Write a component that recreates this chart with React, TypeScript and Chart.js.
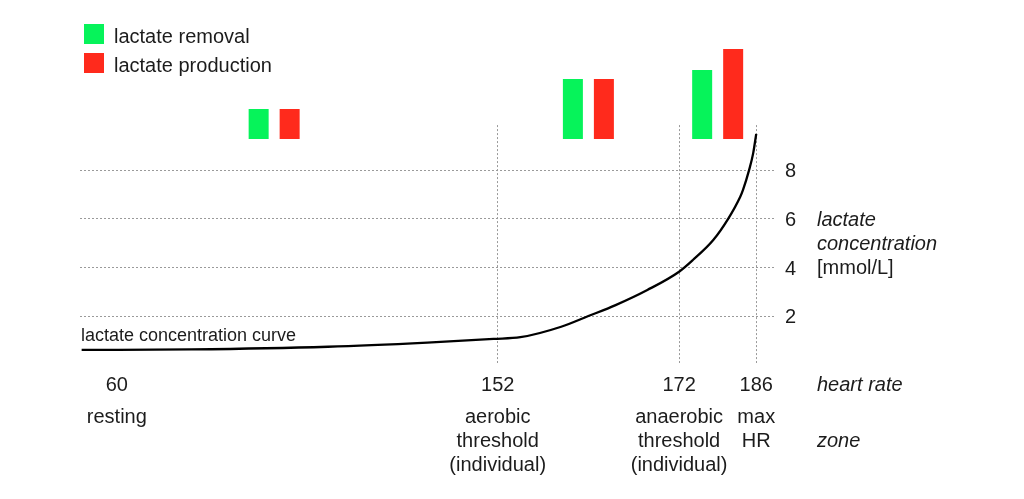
import React, { useEffect, useRef } from "react";
import { Chart, registerables } from "chart.js";

Chart.register(...registerables);

// ---- data ----
const heartRateTicks = [60, 152, 172, 186];
const zoneLabels = [
  ["resting"],
  ["aerobic", "threshold", "(individual)"],
  ["anaerobic", "threshold", "(individual)"],
  ["max", "HR"],
];
const gridHeartRates = [152, 172, 186];
const lactateTicks = [2, 4, 6, 8];

const curveHeartRate = [51.5, 78, 111, 135, 151, 154.5, 159, 162, 165, 168.5, 172, 174.5, 178.2, 180.9, 183.1, 183.6, 184.7, 185.45, 186.0];
const curveLactate = [0.62, 0.64, 0.75, 0.92, 1.07, 1.14, 1.57, 2.01, 2.46, 3.08, 3.83, 4.31, 5.13, 6.0, 6.91, 7.19, 8.0, 8.7, 9.49];

const barHeartRates = [98, 162, 179];
const lactateRemoval = [1, 2, 2.3];
const lactateProduction = [1, 2, 3];
const seriesNames = ["lactate removal", "lactate production"];
const curveName = "lactate concentration curve";
const yTitle = ["lactate", "concentration", "[mmol/L]"];
const xTitle = "heart rate";
const zoneTitle = "zone";

// ---- schematic (non-linear) heart-rate axis: stops on a 0..100 axis ----
const axisStopPos = [5.3, 60.1, 86.2, 97.3];
function hrToPos(hr: number): number {
  const s = heartRateTicks;
  let i = 0;
  if (hr >= s[s.length - 1]) i = s.length - 2;
  else {
    for (let k = 0; k < s.length - 1; k++) {
      if (hr < s[k + 1]) { i = k; break; }
    }
  }
  const t = (hr - s[i]) / (s[i + 1] - s[i]);
  return axisStopPos[i] + t * (axisStopPos[i + 1] - axisStopPos[i]);
}

const GREEN = "#06F35A";
const RED = "#FF2A1C";
const TEXT = "#1c1c1c";
const FONT = '"Liberation Sans", Arial, Helvetica, sans-serif';
const Y_MAX = 14;
const BAR_BASE_LACTATE = 9.28; // where the bar baseline sits on the lactate scale
const BAR_UNIT_IN_LACTATE = 1.232; // one bar unit expressed in lactate units

const f = (size: number, italic = false) => `${italic ? "italic " : ""}${size}px ${FONT}`;

const schematicPlugin = {
  id: "schematic",
  beforeDatasetsDraw(chart: any) {
    const { ctx, chartArea, scales } = chart;
    const x = scales.x, y = scales.y;
    ctx.save();
    ctx.strokeStyle = "#9a9a9a";
    ctx.lineWidth = 1;
    ctx.setLineDash([2, 2]);
    lactateTicks.forEach((v) => {
      const py = Math.floor(y.getPixelForValue(v)) + 0.5;
      ctx.beginPath();
      ctx.moveTo(chartArea.left, py);
      ctx.lineTo(chartArea.right, py);
      ctx.stroke();
    });
    const top = y.getPixelForValue(9.85);
    const bottom = chartArea.bottom - 2;
    gridHeartRates.forEach((hr) => {
      const px = Math.floor(x.getPixelForValue(hrToPos(hr))) + 0.5;
      ctx.beginPath();
      ctx.moveTo(px, top);
      ctx.lineTo(px, bottom);
      ctx.stroke();
    });
    ctx.restore();
  },
  afterDatasetsDraw(chart: any) {
    const { ctx, chartArea, scales, data } = chart;
    const x = scales.x, y = scales.y;
    ctx.save();
    ctx.fillStyle = TEXT;
    ctx.textBaseline = "alphabetic";

    // y tick labels
    ctx.font = f(20);
    ctx.textAlign = "left";
    lactateTicks.forEach((v) => {
      ctx.fillText(String(v), chartArea.right + 10, y.getPixelForValue(v) + 7);
    });
    // y title
    const tx = chartArea.right + 42;
    ctx.font = f(20, true);
    ctx.fillText(yTitle[0], tx, y.getPixelForValue(6) + 7);
    ctx.fillText(yTitle[1], tx, (y.getPixelForValue(6) + y.getPixelForValue(4)) / 2 + 7);
    ctx.font = f(20);
    ctx.fillText(yTitle[2], tx, y.getPixelForValue(4) + 6);

    // x tick labels and zones
    ctx.textAlign = "center";
    heartRateTicks.forEach((hr, i) => {
      const px = x.getPixelForValue(hrToPos(hr));
      ctx.font = f(20);
      ctx.fillText(String(hr), px, chartArea.bottom + 26);
      zoneLabels[i].forEach((line, j) => {
        ctx.fillText(line, px, chartArea.bottom + 57.5 + 24 * j);
      });
    });
    ctx.textAlign = "left";
    ctx.font = f(20, true);
    ctx.fillText(xTitle, tx, chartArea.bottom + 26);
    ctx.fillText(zoneTitle, tx, chartArea.bottom + 81.5);

    // curve label
    ctx.font = f(18);
    ctx.fillText(curveName, chartArea.left + 1, y.getPixelForValue(1));

    // legend
    const barSets = data.datasets.filter((d: any) => d.type === "bar");
    barSets.forEach((d: any, i: number) => {
      const top = 24 + 29 * i;
      ctx.fillStyle = d.backgroundColor;
      ctx.fillRect(84, top, 20, 20);
      ctx.fillStyle = TEXT;
      ctx.font = f(20);
      ctx.fillText(d.label, 114, top + 19);
    });
    ctx.restore();
  },
};

export default function App() {
  const ref = useRef<HTMLCanvasElement | null>(null);
  useEffect(() => {
    if (!ref.current) return;
    const ybMin = -BAR_BASE_LACTATE / BAR_UNIT_IN_LACTATE;
    const ybMax = (Y_MAX - BAR_BASE_LACTATE) / BAR_UNIT_IN_LACTATE;
    const barCommon = {
      type: "bar" as const,
      yAxisID: "yb",
      barThickness: 31,
      borderWidth: { left: 5.5, right: 5.5, top: 0, bottom: 0 },
      borderColor: "rgba(0,0,0,0)",
      borderSkipped: false,
      inflateAmount: 0,
    };
    const chart = new Chart(ref.current, {
      type: "bar",
      data: {
        datasets: [
          {
            ...barCommon,
            label: seriesNames[0],
            backgroundColor: GREEN,
            data: barHeartRates.map((h, i) => ({ x: hrToPos(h), y: lactateRemoval[i] })),
          },
          {
            ...barCommon,
            label: seriesNames[1],
            backgroundColor: RED,
            data: barHeartRates.map((h, i) => ({ x: hrToPos(h), y: lactateProduction[i] })),
          },
          {
            type: "line",
            label: curveName,
            yAxisID: "y",
            borderColor: "#000",
            borderWidth: 2.3,
            pointRadius: 0,
            cubicInterpolationMode: "monotone",
            data: curveHeartRate.map((h, i) => ({ x: hrToPos(h), y: curveLactate[i] })),
          },
        ] as any,
      },
      options: {
        animation: false,
        responsive: true,
        maintainAspectRatio: false,
        devicePixelRatio: 1,
        layout: { padding: { left: 80, right: 249, top: 24, bottom: 134 } },
        scales: {
          x: { type: "linear", min: 0, max: 100, offset: false, display: false },
          y: { type: "linear", min: 0, max: Y_MAX, display: false },
          yb: { type: "linear", min: ybMin, max: ybMax, display: false },
        },
        plugins: { legend: { display: false }, tooltip: { enabled: false } },
      } as any,
      plugins: [schematicPlugin],
    });
    return () => chart.destroy();
  }, []);
  return (
    <div style={{ position: "absolute", left: 0, top: 0, width: 1024, height: 499, background: "#fff" }}>
      <canvas ref={ref} />
    </div>
  );
}
